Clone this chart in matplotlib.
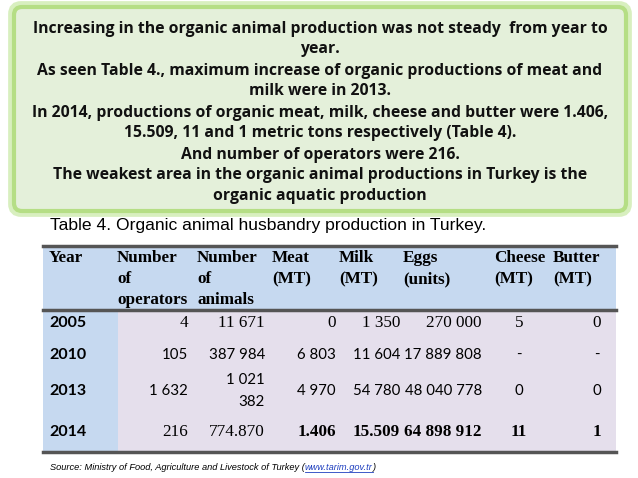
import matplotlib.pyplot as plt
from matplotlib.patches import FancyBboxPatch, Rectangle

# slide text
note_lines = [
    "Increasing in the organic animal production was not steady  from year to",
    "year.",
    "As seen Table 4., maximum increase of organic productions of meat and",
    "milk were in 2013.",
    "In 2014, productions of organic meat, milk, cheese and butter were 1.406,",
    "15.509, 11 and 1 metric tons respectively (Table 4).",
    "And number of operators were 216.",
    "The weakest area in the organic animal productions in Turkey is the",
    "organic aquatic production",
]
caption = "Table 4. Organic animal husbandry production in Turkey."
source = "Source: Ministry of Food, Agriculture and Livestock of Turkey ("
source_link = "www.tarim.gov.tr"

# table data
headers = [["Year"], ["Number", "of", "operators"], ["Number", "of", "animals"],
           ["Meat", "(MT)"], ["Milk", "(MT)"], ["Eggs", "(units)"],
           ["Cheese", "(MT)"], ["Butter", "(MT)"]]
years = ["2005", "2010", "2013", "2014"]
operators = ["4", "105", "1 632", "216"]
animals = ["11 671", "387 984", "1 021\n382", "774.870"]
meat = ["0", "6 803", "4 970", "1.406"]
milk = ["1 350", "11 604", "54 780", "15.509"]
eggs = ["270 000", "17 889 808", "48 040 778", "64 898 912"]
cheese = ["5", "-", "0", "11"]
butter = ["0", "-", "0", "1"]

fig = plt.figure(figsize=(6.38, 4.78), dpi=100)
ax = fig.add_axes([0, 0, 1, 1])
ax.set_xlim(0, 638)
ax.set_ylim(478, 0)
ax.axis("off")

# green note box with soft glow
ax.add_patch(FancyBboxPatch((13, 6), 614, 206, boxstyle="round,pad=0,rounding_size=8",
                            fc="none", ec="#d8efbf", lw=7))
ax.add_patch(FancyBboxPatch((14, 7), 612, 204, boxstyle="round,pad=0,rounding_size=8",
                            fc="#e4f0da", ec="#b5de85", lw=3))
line_y = [29, 49, 71, 91, 113, 133, 155, 175, 196]
for txt, y in zip(note_lines, line_y):
    ax.text(320, y, txt, ha="center", va="center", fontsize=11.3,
            fontweight="bold", family="Open Sans", color="#111111")

ax.text(50, 225, caption, ha="left", va="center", fontsize=12.6,
        family="Liberation Sans")

# table backgrounds
left, right = 43, 616
top, head_bot, bot = 246, 310, 452
ax.add_patch(Rectangle((left, top), right - left, head_bot - top, fc="#c6d9f0", ec="none"))
ax.add_patch(Rectangle((left, head_bot), 75, bot - head_bot, fc="#c6d9f0", ec="none"))
ax.add_patch(Rectangle((left + 75, head_bot), right - left - 75, bot - head_bot, fc="#e5dfec", ec="none"))
for y in (top, head_bot, bot):
    ax.plot([left, right], [y, y], color="#555555", lw=2.5)

head_x = [49, 117, 197, 272, 339, 403, 494, 553]
for x, lines in zip(head_x, headers):
    for k, t in enumerate(lines):
        ax.text(x, 258 + k * 21, t, ha="left", va="center", fontsize=12.3,
                fontweight="bold", family="Liberation Serif")

row_y = [323, 355, 391, 432]
cols = [operators, animals, meat, milk, eggs, cheese, butter]
col_x = [188, 265, 336, 400, 482, 519, 597]
col_ha = ["right", "right", "right", "right", "right", "center", "center"]
for i, y in enumerate(row_y):
    ax.text(49, y, years[i], ha="left", va="center", fontsize=11.5,
            fontweight="bold", family="Lato")
    serif = i in (0, 3)
    for j, col in enumerate(cols):
        bold = i == 3 and j >= 2
        ax.text(col_x[j], y, col[i], ha=col_ha[j], va="center", ma="right",
                fontsize=12.3 if serif else 10.8, linespacing=1.8,
                fontweight="bold" if bold else "normal",
                family="Liberation Serif" if serif else "Lato")

t = ax.text(50, 467, source, ha="left", va="center", fontsize=6.7,
            style="italic", family="Liberation Sans")
fig.canvas.draw()
bb = t.get_window_extent()
t2 = fig.text(bb.x1 / 638, 1 - 467 / 478, source_link, ha="left", va="center", fontsize=6.7,
              style="italic", family="Liberation Sans", color="#1f3fbf")
bb2 = t2.get_window_extent()
fig.text(bb2.x1 / 638, 1 - 467 / 478, ")", ha="left", va="center", fontsize=6.7,
         style="italic", family="Liberation Sans")
ax.plot([bb2.x0, bb2.x1], [472, 472], color="#1f3fbf", lw=0.6)

fig.savefig("out.png", dpi=100)
